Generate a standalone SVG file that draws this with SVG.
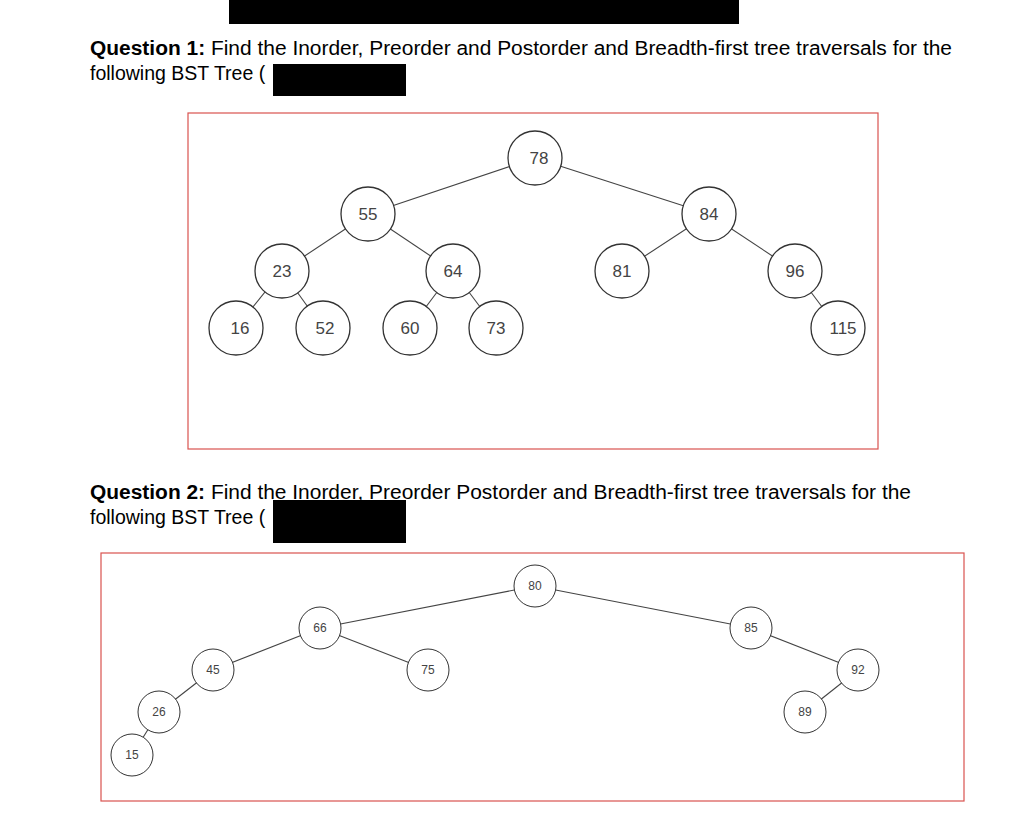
<svg xmlns="http://www.w3.org/2000/svg" width="1024" height="821" viewBox="0 0 1024 821">
<style>
.q{font-family:"Liberation Sans",Arial,sans-serif;font-size:19.5px;fill:#000}
.b{font-weight:bold}
.n1 circle{fill:#fff;stroke:#333;stroke-width:1.3}
.n2 circle{fill:#fff;stroke:#333;stroke-width:1}
.n1 text{font-family:"Liberation Sans",Arial,sans-serif;font-size:17px;fill:#444;text-anchor:middle}
.n2 text{font-family:"Liberation Sans",Arial,sans-serif;font-size:12px;fill:#444;text-anchor:middle}
.e line{stroke:#444;stroke-width:1.1}
.frame{fill:none;stroke:#d9534f;stroke-width:1.2}
</style>
<rect width="1024" height="821" fill="#fff"/>
<rect x="229" y="0" width="510" height="24" fill="#000"/>
<text class="q" x="90" y="55" textLength="862" lengthAdjust="spacingAndGlyphs"><tspan class="b">Question 1:</tspan> Find the Inorder, Preorder and Postorder and Breadth-first tree traversals for the</text>
<text class="q" x="90" y="80">following BST Tree (</text>
<rect x="273" y="64" width="133" height="32" fill="#000"/>
<rect class="frame" x="188" y="113" width="690" height="336"/>
<g class="e" id="connectors1">
<line x1="535" y1="158" x2="368" y2="214"/><line x1="535" y1="158" x2="709" y2="214"/>
<line x1="368" y1="214" x2="282" y2="271"/><line x1="368" y1="214" x2="453" y2="271"/>
<line x1="282" y1="271" x2="236" y2="328"/><line x1="282" y1="271" x2="323" y2="328"/>
<line x1="453" y1="271" x2="410" y2="328"/><line x1="453" y1="271" x2="496" y2="328"/>
<line x1="709" y1="214" x2="622" y2="271"/><line x1="709" y1="214" x2="795" y2="271"/>
<line x1="795" y1="271" x2="838" y2="328"/>
</g>
<g class="n1" id="t1-78"><circle cx="535" cy="158" r="27"/><text x="539" y="164">78</text></g>
<g class="n1" id="t1-55"><circle cx="368" cy="214" r="27"/><text x="368" y="220">55</text></g>
<g class="n1" id="t1-84"><circle cx="709" cy="214" r="27"/><text x="709" y="220">84</text></g>
<g class="n1" id="t1-23"><circle cx="282" cy="271" r="27"/><text x="282" y="277">23</text></g>
<g class="n1" id="t1-64"><circle cx="453" cy="271" r="27"/><text x="453" y="277">64</text></g>
<g class="n1" id="t1-81"><circle cx="622" cy="271" r="27"/><text x="622" y="277">81</text></g>
<g class="n1" id="t1-96"><circle cx="795" cy="271" r="27"/><text x="795" y="277">96</text></g>
<g class="n1" id="t1-16"><circle cx="236" cy="328" r="27"/><text x="240" y="334">16</text></g>
<g class="n1" id="t1-52"><circle cx="323" cy="328" r="27"/><text x="325" y="334">52</text></g>
<g class="n1" id="t1-60"><circle cx="410" cy="328" r="27"/><text x="410" y="334">60</text></g>
<g class="n1" id="t1-73"><circle cx="496" cy="328" r="27"/><text x="496" y="334">73</text></g>
<g class="n1" id="t1-115"><circle cx="838" cy="328" r="27"/><text x="843" y="334">115</text></g>
<text class="q" x="90" y="499" textLength="821" lengthAdjust="spacingAndGlyphs"><tspan class="b">Question 2:</tspan> Find the Inorder, Preorder Postorder and Breadth-first tree traversals for the</text>
<text class="q" x="90" y="524">following BST Tree (</text>
<rect x="273" y="500" width="133" height="43" fill="#000"/>
<rect class="frame" x="101" y="553" width="863" height="248"/>
<g class="e" id="connectors2">
<line x1="535" y1="586" x2="320" y2="628"/><line x1="535" y1="586" x2="751" y2="628"/>
<line x1="320" y1="628" x2="213" y2="670"/><line x1="320" y1="628" x2="428" y2="670"/>
<line x1="213" y1="670" x2="159" y2="712"/><line x1="159" y1="712" x2="132" y2="755"/>
<line x1="751" y1="628" x2="858" y2="670"/><line x1="858" y1="670" x2="805" y2="712"/>
</g>
<g class="n2" id="t2-80"><circle cx="535" cy="586" r="21"/><text x="535" y="590">80</text></g>
<g class="n2" id="t2-66"><circle cx="320" cy="628" r="21"/><text x="320" y="632">66</text></g>
<g class="n2" id="t2-85"><circle cx="751" cy="628" r="21"/><text x="751" y="632">85</text></g>
<g class="n2" id="t2-45"><circle cx="213" cy="670" r="21"/><text x="213" y="674">45</text></g>
<g class="n2" id="t2-75"><circle cx="428" cy="670" r="21"/><text x="428" y="674">75</text></g>
<g class="n2" id="t2-92"><circle cx="858" cy="670" r="21"/><text x="858" y="674">92</text></g>
<g class="n2" id="t2-26"><circle cx="159" cy="712" r="21"/><text x="159" y="716">26</text></g>
<g class="n2" id="t2-89"><circle cx="805" cy="712" r="21"/><text x="805" y="716">89</text></g>
<g class="n2" id="t2-15"><circle cx="132" cy="755" r="21"/><text x="132" y="759">15</text></g>
</svg>
